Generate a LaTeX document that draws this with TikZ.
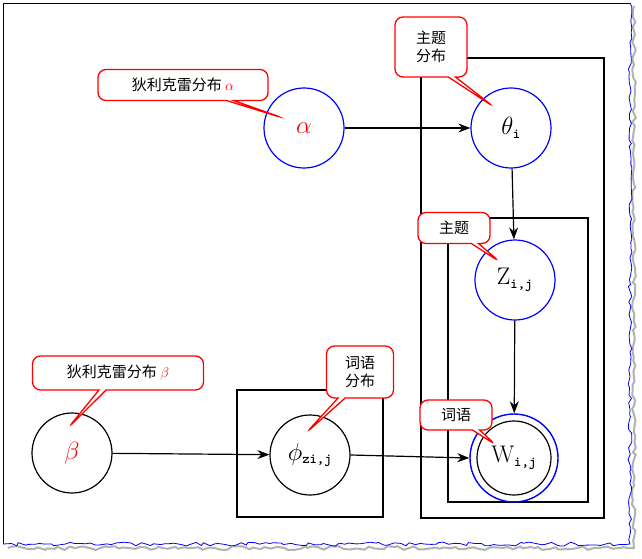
\documentclass[tikz,border=0pt]{standalone}
\usepackage{fontspec}
\newfontfamily\cjk{Noto Sans CJK SC}
\usetikzlibrary{shapes.callouts,arrows.meta,decorations.pathmorphing}
\newcommand{\sbx}[1]{_{\mbox{\fontsize{14}{15}\selectfont\ttfamily\bfseries #1}}}
\begin{document}
\begin{tikzpicture}[x=1pt,y=-1pt,
  var/.style={circle,draw,line width=1.2pt,minimum size=80pt,inner sep=0pt,font=\fontsize{24}{28}\selectfont},
  plate/.style={draw,line width=1.3pt},
  arr/.style={-{Stealth[length=12pt,width=9pt]},line width=1.2pt},
  co/.style={rectangle callout,draw=red,line width=1.3pt,rounded corners=8pt,fill=white,font=\cjk\fontsize{15}{18}\selectfont,align=left,inner sep=4pt}]
\useasboundingbox (0,0) rectangle (642,559);
\fill[white] (0,0) rectangle (642,559);
% frame
\draw[gray!60,line width=2pt,decorate,decoration={random steps,segment length=5pt,amplitude=2pt}] (634,6) -- (634,548) -- (8,548);
\draw[blue,line width=0.8pt,decorate,decoration={random steps,segment length=5pt,amplitude=2pt}] (630,3) -- (630,544) -- (3,544);
\draw[line width=0.6pt] (3,544) -- (3,3) -- (630,3);
% plates
\draw[plate] (421,58) rectangle (604,518);
\draw[plate] (448,218) rectangle (588,502);
\draw[plate] (237,390) rectangle (383,517);
% nodes
\node[var,draw=blue,text=red] (alpha) at (304,128) {$\alpha$};
\node[var,draw=blue] (theta) at (511,128) {$\theta\sbx{i}$};
\node[var,draw=blue] (z) at (515,280) {$\mathrm{Z}\sbx{i,j}$};
\node[circle,draw=blue,line width=1.4pt,minimum size=88pt] (w) at (514,458) {};
\node[var,minimum size=74pt] (wi) at (514,458) {$\mathrm{W}\sbx{i,j}$};
\node[var,text=red] (beta) at (72,453) {$\beta$};
\node[var] (phi) at (310,455) {$\phi\sbx{zi,j}$};
% arrows
\draw[arr] (alpha) -- (theta);
\draw[arr] (theta) -- (z);
\draw[arr] (z) -- (w);
\draw[arr] (beta) -- (phi);
\draw[arr] (phi.east) -- (w.west);
% callouts
\node[co,minimum width=170pt,minimum height=31pt,callout absolute pointer={(283,118)}] (c1) at (183,85) {狄利克雷分布 \textcolor{red}{$\alpha$}};
\node[co,minimum width=72pt,minimum height=60pt,callout absolute pointer={(494,107)}] (c2) at (431,47) {主题\\分布};
\node[co,minimum width=72pt,minimum height=31pt,callout absolute pointer={(500,262)}] (c3) at (454,228) {主题};
\node[co,minimum width=171pt,minimum height=34pt,callout absolute pointer={(68,428)}] (c4) at (118,373) {狄利克雷分布 \textcolor{red}{$\beta$}};
\node[co,minimum width=67pt,minimum height=52pt,callout absolute pointer={(306,433)}] (c5) at (360,372) {词语\\分布};
\node[co,minimum width=72pt,minimum height=30pt,callout absolute pointer={(496,445)}] (c6) at (456,415) {词语};
\end{tikzpicture}
\end{document}
